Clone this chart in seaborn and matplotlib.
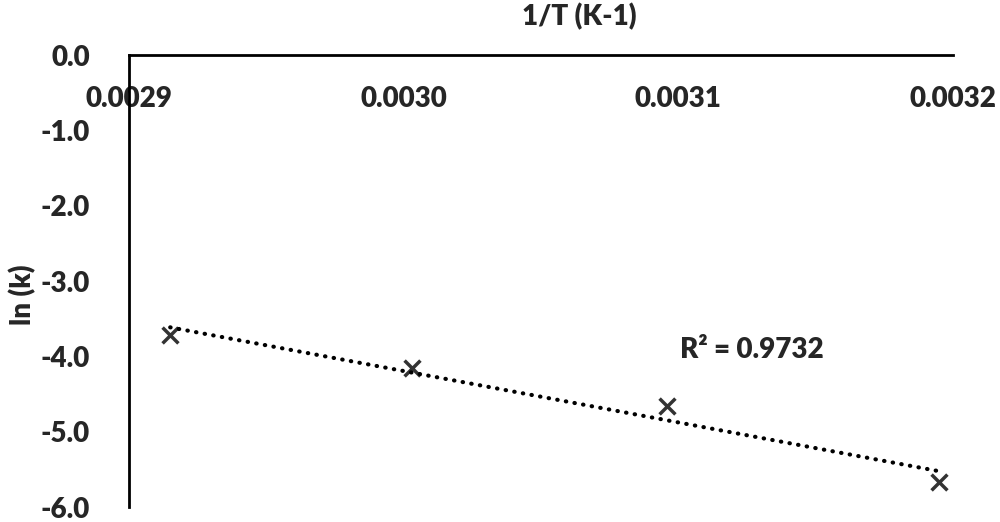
import numpy as np
import pandas as pd
import matplotlib
matplotlib.use('Agg')
import matplotlib.pyplot as plt
import seaborn as sns

# 1/T values (K-1) and ln(k)
inv_T = [0.002915, 0.003003, 0.003096, 0.003195]
ln_k = [-3.72, -4.15, -4.66, -5.66]
r2_text = 'R\u00b2 = 0.9732'
x_ticks = [0.0029, 0.0030, 0.0031, 0.0032]
y_ticks = [0.0, -1.0, -2.0, -3.0, -4.0, -5.0, -6.0]

df = pd.DataFrame({'inv_T': inv_T, 'ln_k': ln_k})

sns.set_style('white')
plt.rcParams['font.family'] = ['Lato', 'DejaVu Sans']
plt.rcParams['font.weight'] = 'heavy'
wt = 'heavy'

fig = plt.figure(figsize=(10, 5.22), dpi=100)
ax = fig.add_axes([0.129, 0.028, 0.824, 0.8666])

sns.regplot(data=df, x='inv_T', y='ln_k', ci=None, ax=ax, marker='x',
            scatter_kws={'color': 'black', 's': 130, 'linewidths': 2.5},
            line_kws={'color': 'black', 'linewidth': 3,
                      'linestyle': (0, (0.1, 2.0)), 'dash_capstyle': 'round'})

ax.set_xlim(0.0029, 0.0032)
ax.set_ylim(-6, 0)
ax.set_xticks(x_ticks)
ax.set_xticklabels([f'{v:.4f}' for v in x_ticks])
ax.set_yticks(y_ticks)
ax.set_yticklabels([f'{v:.1f}' for v in y_ticks])

# x axis sits at y = 0 (top), labels hang below it
ax.spines['bottom'].set_position(('data', 0))
ax.spines['top'].set_visible(False)
ax.spines['right'].set_visible(False)
for s in ['bottom', 'left']:
    ax.spines[s].set_color('black')
    ax.spines[s].set_linewidth(2)

ax.tick_params(axis='x', length=0, pad=22, labelsize=20)
ax.tick_params(axis='y', length=0, pad=28, labelsize=20)
for lab in ax.get_xticklabels() + ax.get_yticklabels():
    lab.set_fontweight(wt)
for lab in ax.get_yticklabels():
    lab.set_verticalalignment('center_baseline')

ax.xaxis.set_label_position('top')
ax.set_xlabel('1/T (K-1)', fontsize=20, fontweight=wt)
ax.xaxis.set_label_coords(0.546, 1.065)
ax.set_ylabel('ln (k)', fontsize=20, fontweight=wt)
ax.yaxis.set_label_coords(-0.112, 0.47)

ax.text(0.669, 0.347, r2_text, transform=ax.transAxes, fontsize=20,
        fontweight=wt, va='center', ha='left')

fig.savefig('out.png', dpi=100)
